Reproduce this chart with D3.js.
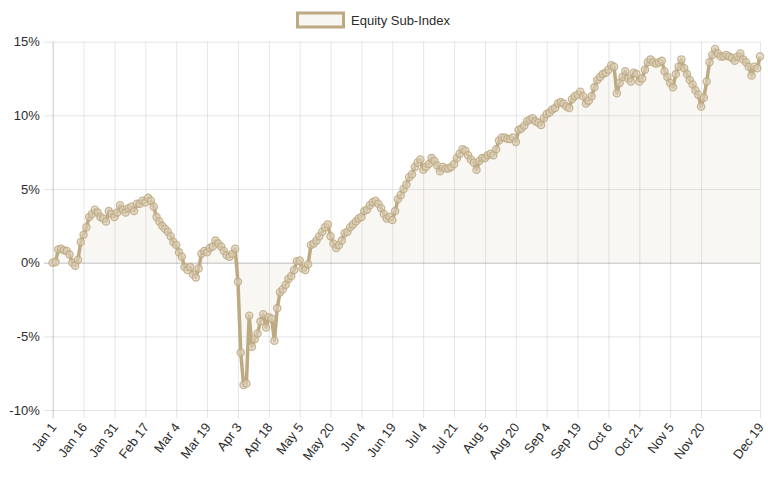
<!DOCTYPE html>
<html>
<head>
<meta charset="utf-8">
<script src="https://cdn.jsdelivr.net/npm/d3@7"></script>
<style>
  html, body { margin: 0; padding: 0; background: #fff; }
  svg { display: block; font-family: "Liberation Sans", Arial, sans-serif; }
</style>
</head>
<body>
<div id="chart"></div>
<script>
// Daily values (weekdays, Jan 1 - Dec 19), percent
const seriesName = 'Equity Sub-Index';
const values = [
  0.0, 0.05, 0.9, 0.95, 0.85, 0.8, 0.55, 0.0, -0.2, 0.2,
  1.4, 1.9, 2.4, 3.1, 3.3, 3.6, 3.4, 3.1, 3.0, 2.8,
  3.5, 3.3, 3.1, 3.4, 3.9, 3.6, 3.4, 3.7, 3.8, 3.5,
  4.0, 4.0, 4.2, 4.1, 4.4, 4.2, 3.8, 3.1, 2.8, 2.5,
  2.3, 2.1, 1.8, 1.4, 1.2, 0.7, 0.4, -0.3, -0.5, -0.3,
  -0.8, -1.0, -0.4, 0.6, 0.8, 0.7, 1.0, 1.1, 1.5, 1.3,
  1.1, 0.8, 0.5, 0.4, 0.6, 0.95, -1.3, -6.1, -8.3, -8.2,
  -3.6, -5.7, -5.2, -4.8, -4.0, -3.5, -4.4, -3.7, -3.8, -5.3,
  -3.1, -2.0, -1.8, -1.5, -1.1, -0.9, -0.5, 0.1, 0.15, -0.4,
  -0.5, -0.1, 1.2, 1.3, 1.5, 1.8, 2.1, 2.4, 2.6, 1.8,
  1.3, 1.0, 1.2, 1.5, 2.0, 2.1, 2.4, 2.6, 2.8, 3.0,
  3.1, 3.5, 3.6, 3.9, 4.1, 4.2, 4.0, 3.7, 3.3, 3.0,
  3.1, 2.9, 3.5, 4.3, 4.6, 5.0, 5.3, 5.8, 6.0, 6.5,
  6.8, 7.0, 6.3, 6.5, 6.7, 7.1, 6.9, 6.6, 6.2, 6.5,
  6.4, 6.4, 6.5, 6.7, 7.1, 7.4, 7.7, 7.6, 7.3, 7.0,
  6.8, 6.3, 6.9, 7.1, 7.1, 7.3, 7.4, 7.3, 7.7, 8.3,
  8.5, 8.5, 8.4, 8.4, 8.5, 8.2, 9.0, 9.1, 9.3, 9.6,
  9.7, 9.8, 9.6, 9.5, 9.35, 9.8, 10.1, 10.2, 10.4, 10.5,
  10.8, 10.9, 10.8, 10.6, 10.5, 11.1, 11.3, 11.4, 11.6, 11.3,
  10.8, 11.0, 11.3, 11.9, 12.4, 12.6, 12.8, 12.9, 13.1, 13.4,
  13.3, 11.5, 12.2, 12.6, 13.0, 12.5, 12.3, 12.9, 12.8, 12.3,
  12.5, 13.1, 13.6, 13.8, 13.6, 13.5, 13.6, 13.7, 13.0, 12.6,
  12.2, 11.9, 12.8, 13.3, 13.8, 13.2, 12.8, 12.4, 12.1, 11.7,
  11.4, 10.6, 11.2, 12.3, 13.6, 14.1, 14.5, 14.2, 14.0, 14.0,
  14.1, 14.0, 13.9, 13.7, 14.0, 14.2, 13.8, 13.6, 13.3, 12.7,
  13.3, 13.2, 14.0
];
const tickLabels = ['Jan 1', 'Jan 16', 'Jan 31', 'Feb 17', 'Mar 4', 'Mar 19', 'Apr 3',
  'Apr 18', 'May 5', 'May 20', 'Jun 4', 'Jun 19', 'Jul 4', 'Jul 21', 'Aug 5', 'Aug 20',
  'Sep 4', 'Sep 19', 'Oct 6', 'Oct 21', 'Nov 5', 'Nov 20', 'Dec 19'];
const yTicks = [-10, -5, 0, 5, 10, 15];

// category labels: every weekday of 2025 up to Dec 19
const fmt = d3.timeFormat('%b %-d');
const dates = d3.timeDays(new Date(2025, 0, 1), new Date(2025, 11, 20))
  .filter(d => d.getDay() !== 0 && d.getDay() !== 6)
  .map(fmt);
const data = values.map((v, i) => ({ label: dates[i], value: v }));

const width = 768, height = 485;
const margin = { top: 41.7, right: 8, bottom: 75, left: 52.7 };
const innerW = width - margin.left - margin.right;
const innerH = height - margin.top - margin.bottom;

const color = '#bda982';
const font = '"Liberation Sans", Arial, sans-serif';

const x = d3.scalePoint().domain(dates).range([0, innerW]);
const y = d3.scaleLinear().domain([-10, 15]).range([innerH, 0]);

const svg = d3.select('#chart').append('svg')
  .attr('width', width).attr('height', height);

// legend
const legend = svg.append('g');
legend.append('rect')
  .attr('x', 297.5).attr('y', 13).attr('width', 46).attr('height', 14)
  .attr('fill', '#f8f6f1').attr('stroke', color).attr('stroke-width', 3);
legend.append('text')
  .attr('x', 351).attr('y', 25).attr('fill', '#2b2b2b').style('font-size', '13px')
  .text(seriesName);

const g = svg.append('g').attr('transform', `translate(${margin.left},${margin.top})`);

// y grid + labels
const yAxis = g.append('g')
  .call(d3.axisLeft(y).tickValues(yTicks).tickSize(-innerW - 9).tickFormat(d => d + '%'))
  .attr('transform', 'translate(-9,0)');
yAxis.select('.domain').remove();
yAxis.selectAll('line').attr('stroke', d => d === 0 ? 'rgba(0,0,0,0.25)' : 'rgba(0,0,0,0.1)');
yAxis.selectAll('text').attr('fill', '#2b2b2b').attr('x', -4)
  .style('font-size', '13px').style('font-family', font);

// x grid + labels
const xAxis = g.append('g')
  .attr('transform', `translate(0,${innerH + 8})`)
  .call(d3.axisBottom(x).tickValues(tickLabels).tickSize(-innerH - 8));
xAxis.select('.domain').remove();
xAxis.selectAll('line').attr('stroke', (d, i) => i === 0 ? 'rgba(0,0,0,0.22)' : 'rgba(0,0,0,0.1)');
xAxis.selectAll('text')
  .attr('fill', '#2b2b2b')
  .style('font-size', '13px')
  .style('font-family', font)
  .style('text-anchor', 'end')
  .attr('x', -5)
  .attr('y', 4)
  .attr('dy', '0.35em')
  .attr('transform', 'rotate(-53)');

// area to zero
g.append('path')
  .datum(data)
  .attr('fill', 'rgba(187,167,132,0.09)')
  .attr('d', d3.area().x(d => x(d.label)).y0(y(0)).y1(d => y(d.value)));

// line
g.append('path')
  .datum(data)
  .attr('fill', 'none')
  .attr('stroke', color)
  .attr('stroke-width', 3.5)
  .attr('stroke-linejoin', 'round')
  .attr('d', d3.line().x(d => x(d.label)).y(d => y(d.value)));

// points
g.selectAll('circle')
  .data(data)
  .enter()
  .append('circle')
  .attr('cx', d => x(d.label))
  .attr('cy', d => y(d.value))
  .attr('r', 3.6)
  .attr('fill', 'rgba(222,210,188,0.6)')
  .attr('stroke', 'rgba(189,169,130,0.85)')
  .attr('stroke-width', 1.3);
</script>
</body>
</html>
